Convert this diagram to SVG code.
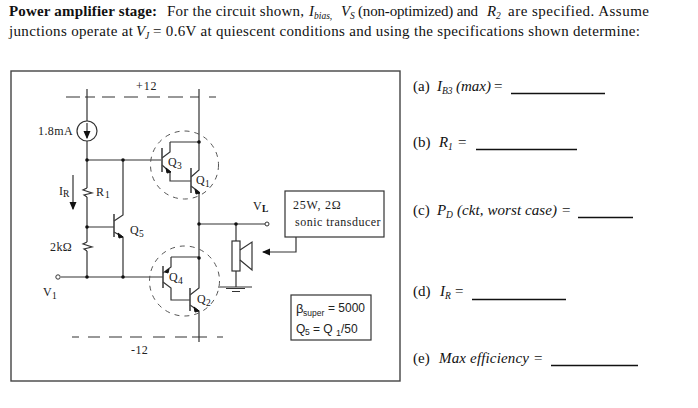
<svg xmlns="http://www.w3.org/2000/svg" width="698" height="408" viewBox="0 0 698 408">
<style>
text{font-family:"Liberation Serif","Times New Roman",serif;fill:#111}
.q{font-size:15px}
.c{font-size:12px;fill:#222;letter-spacing:.4px}
.s{font-size:9.500px}
.w{fill:none;stroke:#333;stroke-width:1.200}
.ring{fill:none;stroke:#555;stroke-width:1;stroke-dasharray:5 5}
.bar{stroke:#444;stroke-width:1.600;fill:none}
.box{fill:#fff;stroke:#333;stroke-width:1.200}
.blank{stroke:#111;stroke-width:1.300}
.dot{fill:#111}
.l{font-family:"Liberation Sans",Arial,sans-serif;fill:#222}
</style>
<defs>
<marker id="a" markerWidth="7" markerHeight="6" refX="6" refY="3" orient="auto"><path d="M0 0L7 3L0 6Z" fill="#111"/></marker>
</defs>
<g id="header">
<text class="q" y="16" x="9" font-weight="bold" textLength="148">Power amplifier stage:</text>
<text class="q" y="16" x="167" textLength="137">For the circuit shown,</text>
<text class="q" y="16" x="309" font-style="italic">I</text><text y="19" x="314" font-size="9.500" font-style="italic">bias,</text>
<text class="q" y="16" x="341" font-style="italic">V</text><text y="19" x="350" font-size="9.500" font-style="italic">S</text>
<text class="q" y="16" x="358" textLength="120">(non-optimized) and</text>
<text class="q" y="16" x="487" font-style="italic">R</text><text y="19" x="496" font-size="9.500" font-style="italic">2</text>
<text class="q" y="16" x="508" textLength="141">are specified.  Assume</text>
<text class="q" y="36" x="9" textLength="124">junctions operate at</text>
<text class="q" y="36" x="136" font-style="italic">V</text><text y="39" x="145" font-size="9.500" font-style="italic">J</text>
<text class="q" y="36" x="153" textLength="487">= 0.6V at quiescent conditions and using the specifications shown determine:</text>
</g>
<rect id="frame" x="11" y="71" width="389" height="310" fill="none" stroke="#444" stroke-width="1.400"/>
<g id="questions">
<text class="q" x="413" y="91">(a)</text><text class="q" x="437" y="91" font-style="italic">I</text><text x="442" y="94" font-size="9.500" font-style="italic">B3</text><text class="q" x="456" y="91" font-style="italic" textLength="35">(max)</text><text class="q" x="494" y="91">=</text>
<line class="blank" x1="511" y1="93.500" x2="605" y2="93.500"/>
<text class="q" x="413" y="147">(b)</text><text class="q" x="439" y="147" font-style="italic">R</text><text x="448" y="150" font-size="9.500" font-style="italic">1</text><text class="q" x="458" y="147">=</text>
<line class="blank" x1="476" y1="149.500" x2="577" y2="149.500"/>
<text class="q" x="413" y="215">(c)</text><text class="q" x="437" y="215" font-style="italic">P</text><text x="446" y="218" font-size="9.500" font-style="italic">D</text><text class="q" x="457" y="215" font-style="italic" textLength="100">(ckt, worst case)</text><text class="q" x="562" y="215">=</text>
<line class="blank" x1="578" y1="217.500" x2="633" y2="217.500"/>
<text class="q" x="413" y="296">(d)</text><text class="q" x="440" y="296" font-style="italic">I</text><text x="445" y="299" font-size="9.500" font-style="italic">R</text><text class="q" x="455" y="296">=</text>
<line class="blank" x1="472" y1="299.500" x2="566" y2="299.500"/>
<text class="q" x="413" y="363">(e)</text><text class="q" x="439" y="363" font-style="italic" textLength="90">Max efficiency</text><text class="q" x="534" y="363">=</text>
<line class="blank" x1="551" y1="365.500" x2="638" y2="365.500"/>
</g>
<g id="connectors">
<path class="w" d="M66 97H80M85 97H95M102 97H115M124 97H138M147 97H160M168 97H183M190 97H199M209 97H216"/>
<path class="w" d="M72 337H79M88 337H100M109 337H122M130 337H142M153 337H165M175 337H187M192 337H207M217 337H223"/>
<path class="w" d="M87 89V121M87 141V188M87 197V242M87 251V277"/>
<path class="w" d="M87 188L83 190L92 193L84 195L87 197"/>
<path class="w" d="M87 242L83 244L92 247L84 249L87 251"/>
<path class="w" d="M87 160H161M123 160V215L114 221M87 227H114M114 232L123 237V277"/>
<path class="w" d="M61 277H163"/>
<path class="w" d="M199 89V170L191 177M170 142H199M170 142V152L162 158M162 165L170 172V181H191"/>
<path class="w" d="M191 186L199 192V288L190 295M171 257H199M171 257V267L163 273M163 282L171 288V300H190M190 305L199 311V342"/>
<path class="w" d="M199 224H265M236 224V241M236 271V287"/>
<path class="w" d="M218 287H252M226 288.500H245M232 291.500H240"/>
<path class="w" d="M296 237V252H263" marker-end="url(#a)"/>
<path class="w" d="M73 175V209" marker-end="url(#a)"/>
<g class="dot"><circle cx="87" cy="160" r="1.800"/><circle cx="123" cy="160" r="1.800"/><circle cx="87" cy="227" r="1.800"/><circle cx="87" cy="277" r="1.800"/><circle cx="123" cy="277" r="1.800"/><circle cx="199" cy="142" r="1.800"/><circle cx="199" cy="258" r="1.800"/><circle cx="199" cy="224" r="1.800"/><circle cx="236" cy="224" r="1.800"/></g>
<circle cx="267" cy="224" r="2" fill="#fff" stroke="#333"/>
<circle cx="58" cy="277" r="2.200" fill="#fff" stroke="#333"/>
</g>
<g id="source"><circle cx="87" cy="131" r="10" fill="#fff" stroke="#333" stroke-width="1.200"/><path class="w" d="M87 123V138" marker-end="url(#a)"/><text class="c" x="38" y="135" textLength="35">1.8mA</text></g>
<g id="R1"><text class="c" x="96" y="196">R</text><text class="s" x="105" y="198">1</text><text class="c" x="59" y="195">I</text><text class="s" x="63" y="197">R</text></g>
<g id="R2"><text class="c" x="50" y="251">2kΩ</text></g>
<g id="V1"><text class="c" x="43" y="296">V</text><text class="s" x="52" y="299">1</text></g>
<g id="Vplus"><text class="c" x="136" y="90" textLength="21">+12</text></g>
<g id="Vminus"><text class="c" x="131" y="354">-12</text></g>
<g id="Q5"><path class="bar" d="M114 214V237"/><path d="M118 233L123 237L119 238Z" fill="#111" stroke="#111"/><text class="c" x="130" y="234">Q</text><text class="s" x="139" y="237">5</text></g>
<g id="Q3"><circle class="ring" cx="184.500" cy="165" r="34"/><path class="bar" d="M162 148V172"/><path d="M166 168L171 172L167 173Z" fill="#111" stroke="#111"/><text class="c" x="168" y="166">Q</text><text class="s" x="177" y="169">3</text></g>
<g id="Q1"><path class="bar" d="M191 168V193"/><path d="M195 189L200 193L196 194Z" fill="#111" stroke="#111"/><text class="c" x="196" y="184">Q</text><text class="s" x="205" y="187">1</text></g>
<g id="Q4"><circle class="ring" cx="184.500" cy="281" r="35"/><path class="bar" d="M163 266V288"/><path d="M165 272L169 269L168 273Z" fill="#111" stroke="#111"/><text class="c" x="169" y="281">Q</text><text class="s" x="178" y="284">4</text></g>
<g id="Q2"><path class="bar" d="M190 288V311"/><path d="M194 307L199 311L195 312Z" fill="#111" stroke="#111"/><text class="c" x="197" y="303">Q</text><text class="s" x="206" y="306">2</text></g>
<g id="VL"><text class="c" x="253" y="210">V</text><text class="s" x="262" y="212" font-weight="bold">L</text></g>
<g id="load"><rect x="232" y="241" width="8" height="30" fill="#fff" stroke="#333" stroke-width="1.200"/><path class="w" d="M240 250L252 242V270L240 260"/></g>
<g id="transducer"><rect class="box" x="285" y="191" width="99" height="46"/><text class="c" x="293" y="209" textLength="48">25W, 2Ω</text><text class="c" x="295" y="226" textLength="86">sonic transducer</text></g>
<g id="beta"><rect class="box" x="291" y="295" width="80" height="45"/><text class="l" x="296" y="313" font-size="13">β</text><text class="l" x="303" y="316" font-size="8.500">super</text><text class="l" x="328" y="312" font-size="12">= 5000</text><text class="l" x="296" y="333" font-size="12">Q</text><text class="l" x="305" y="335" font-size="8.500">5</text><text class="l" x="313" y="333" font-size="12">= Q</text><text class="l" x="336" y="336" font-size="9">1</text><text class="l" x="341" y="333" font-size="12">/50</text></g>
</svg>
